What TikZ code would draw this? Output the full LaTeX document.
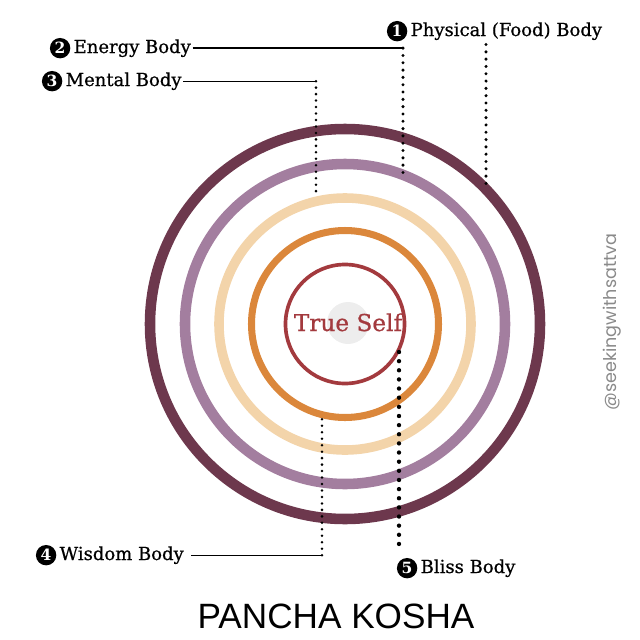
\documentclass[tikz,border=0pt]{standalone}
\usepackage{fontspec}
\setmainfont{DejaVu Serif}
\newfontfamily\lblfont{DejaVu Serif}[FakeBold=0.7]
\newfontfamily\titlefont{Liberation Sans}
\newfontfamily\tagfont{Poppins}
\usepackage{tikz}
\usetikzlibrary{positioning}
\definecolor{PlumDark}{HTML}{6D384D}
\definecolor{Mauve}{HTML}{A37E9F}
\definecolor{Wheat}{HTML}{F3D4AA}
\definecolor{Amber}{HTML}{DB873B}
\definecolor{Brick}{HTML}{A33A3E}
\definecolor{Mist}{HTML}{EDEDED}
\definecolor{TagGray}{HTML}{8A8A8A}

\begin{document}
\begin{tikzpicture}[
  x=0.025cm, y=-0.025cm,
  % --- text styles ---
  lbl/.style={font=\lblfont\fontsize{12.8}{15}\selectfont, inner sep=1pt, anchor=base west},
  num/.style={circle, fill=black, text=white, inner sep=0pt, minimum size=14.5pt,
    font=\fontsize{11}{11}\selectfont\bfseries},
  % --- connectors ---
  lead/.style={line width=0.75pt},
  dots/.style={line width=2pt, line cap=round, dash pattern=on 0pt off 4.6pt},
  middots/.style={line width=2.4pt, line cap=round, dash pattern=on 0pt off 5.2pt},
  bigdots/.style={line width=3.1pt, line cap=round, dash pattern=on 0pt off 6.5pt},
]
\useasboundingbox (0,0) rectangle (640,640);
\coordinate (c) at (345,324);

% =================== RINGS (outer to inner) ===================
\draw[PlumDark, line width=7.5pt] (c) circle[radius=195];
\draw[Mauve, line width=7.5pt] (c) circle[radius=160];
\draw[Wheat, line width=6.8pt] (c) circle[radius=126];
\draw[Amber, line width=5pt] (c) circle[radius=93.5];
\draw[Brick, line width=2.6pt] (c) circle[radius=59.5];

% centre
\fill[Mist] (348,323) circle[radius=21];
\node[font=\lblfont\fontsize{16.5}{18}\selectfont, text=Brick, anchor=base] (self) at (348,331) {True Self};

% =================== LABELS ===================
\node[lbl] (physL) at (409,36) {Physical (Food) Body};
\node[num, left=1pt of physL] (n1) {1};

\node[lbl] (energyL) at (72,53) {Energy Body};
\node[num, left=1pt of energyL] (n2) {2};

\node[lbl] (mentalL) at (64,86) {Mental Body};
\node[num, left=1pt of mentalL] (n3) {3};

\node[lbl] (wisL) at (58,560) {Wisdom Body};
\node[num, left=1pt of wisL] (n4) {4};

\node[lbl] (blissL) at (419,573) {Bliss Body};
\node[num, left=1pt of blissL] (n5) {5};

% ring ends of the leaders
\coordinate (pEnd) at (486,190);
\coordinate (eEnd) at (403,175);
\coordinate (mEnd) at (316,196);
\coordinate (wEnd) at (322,414);
\coordinate (bEnd) at (399,352);

% =================== LEADERS ===================
\draw[middots, shorten <=2pt] (physL.south -| pEnd) -- (pEnd);

\draw[lead, line width=1.4pt] (energyL.east) -- (energyL.east -| eEnd);
\draw[middots] (energyL.east -| eEnd) -- (eEnd);

\draw[lead] (mentalL.east) -- (mentalL.east -| mEnd);
\draw[dots] (mentalL.east -| mEnd) -- (mEnd);

\draw[lead, shorten <=4pt] (wisL.east) -- (wisL.east -| wEnd);
\draw[dots] (wisL.east -| wEnd) -- (wEnd);

\draw[bigdots, shorten >=5pt] (bEnd) -- (bEnd |- n5.north);

% =================== TITLE / TAG ===================
\node[font=\titlefont\fontsize{25}{27}\selectfont, anchor=base] (title) at (336,628) {PANCHA KOSHA};
\node[font=\tagfont\fontsize{12.5}{14}\selectfont, text=TagGray, rotate=90] (tag) at (612,322) {@seekingwithsattva};

\end{tikzpicture}
\end{document}
